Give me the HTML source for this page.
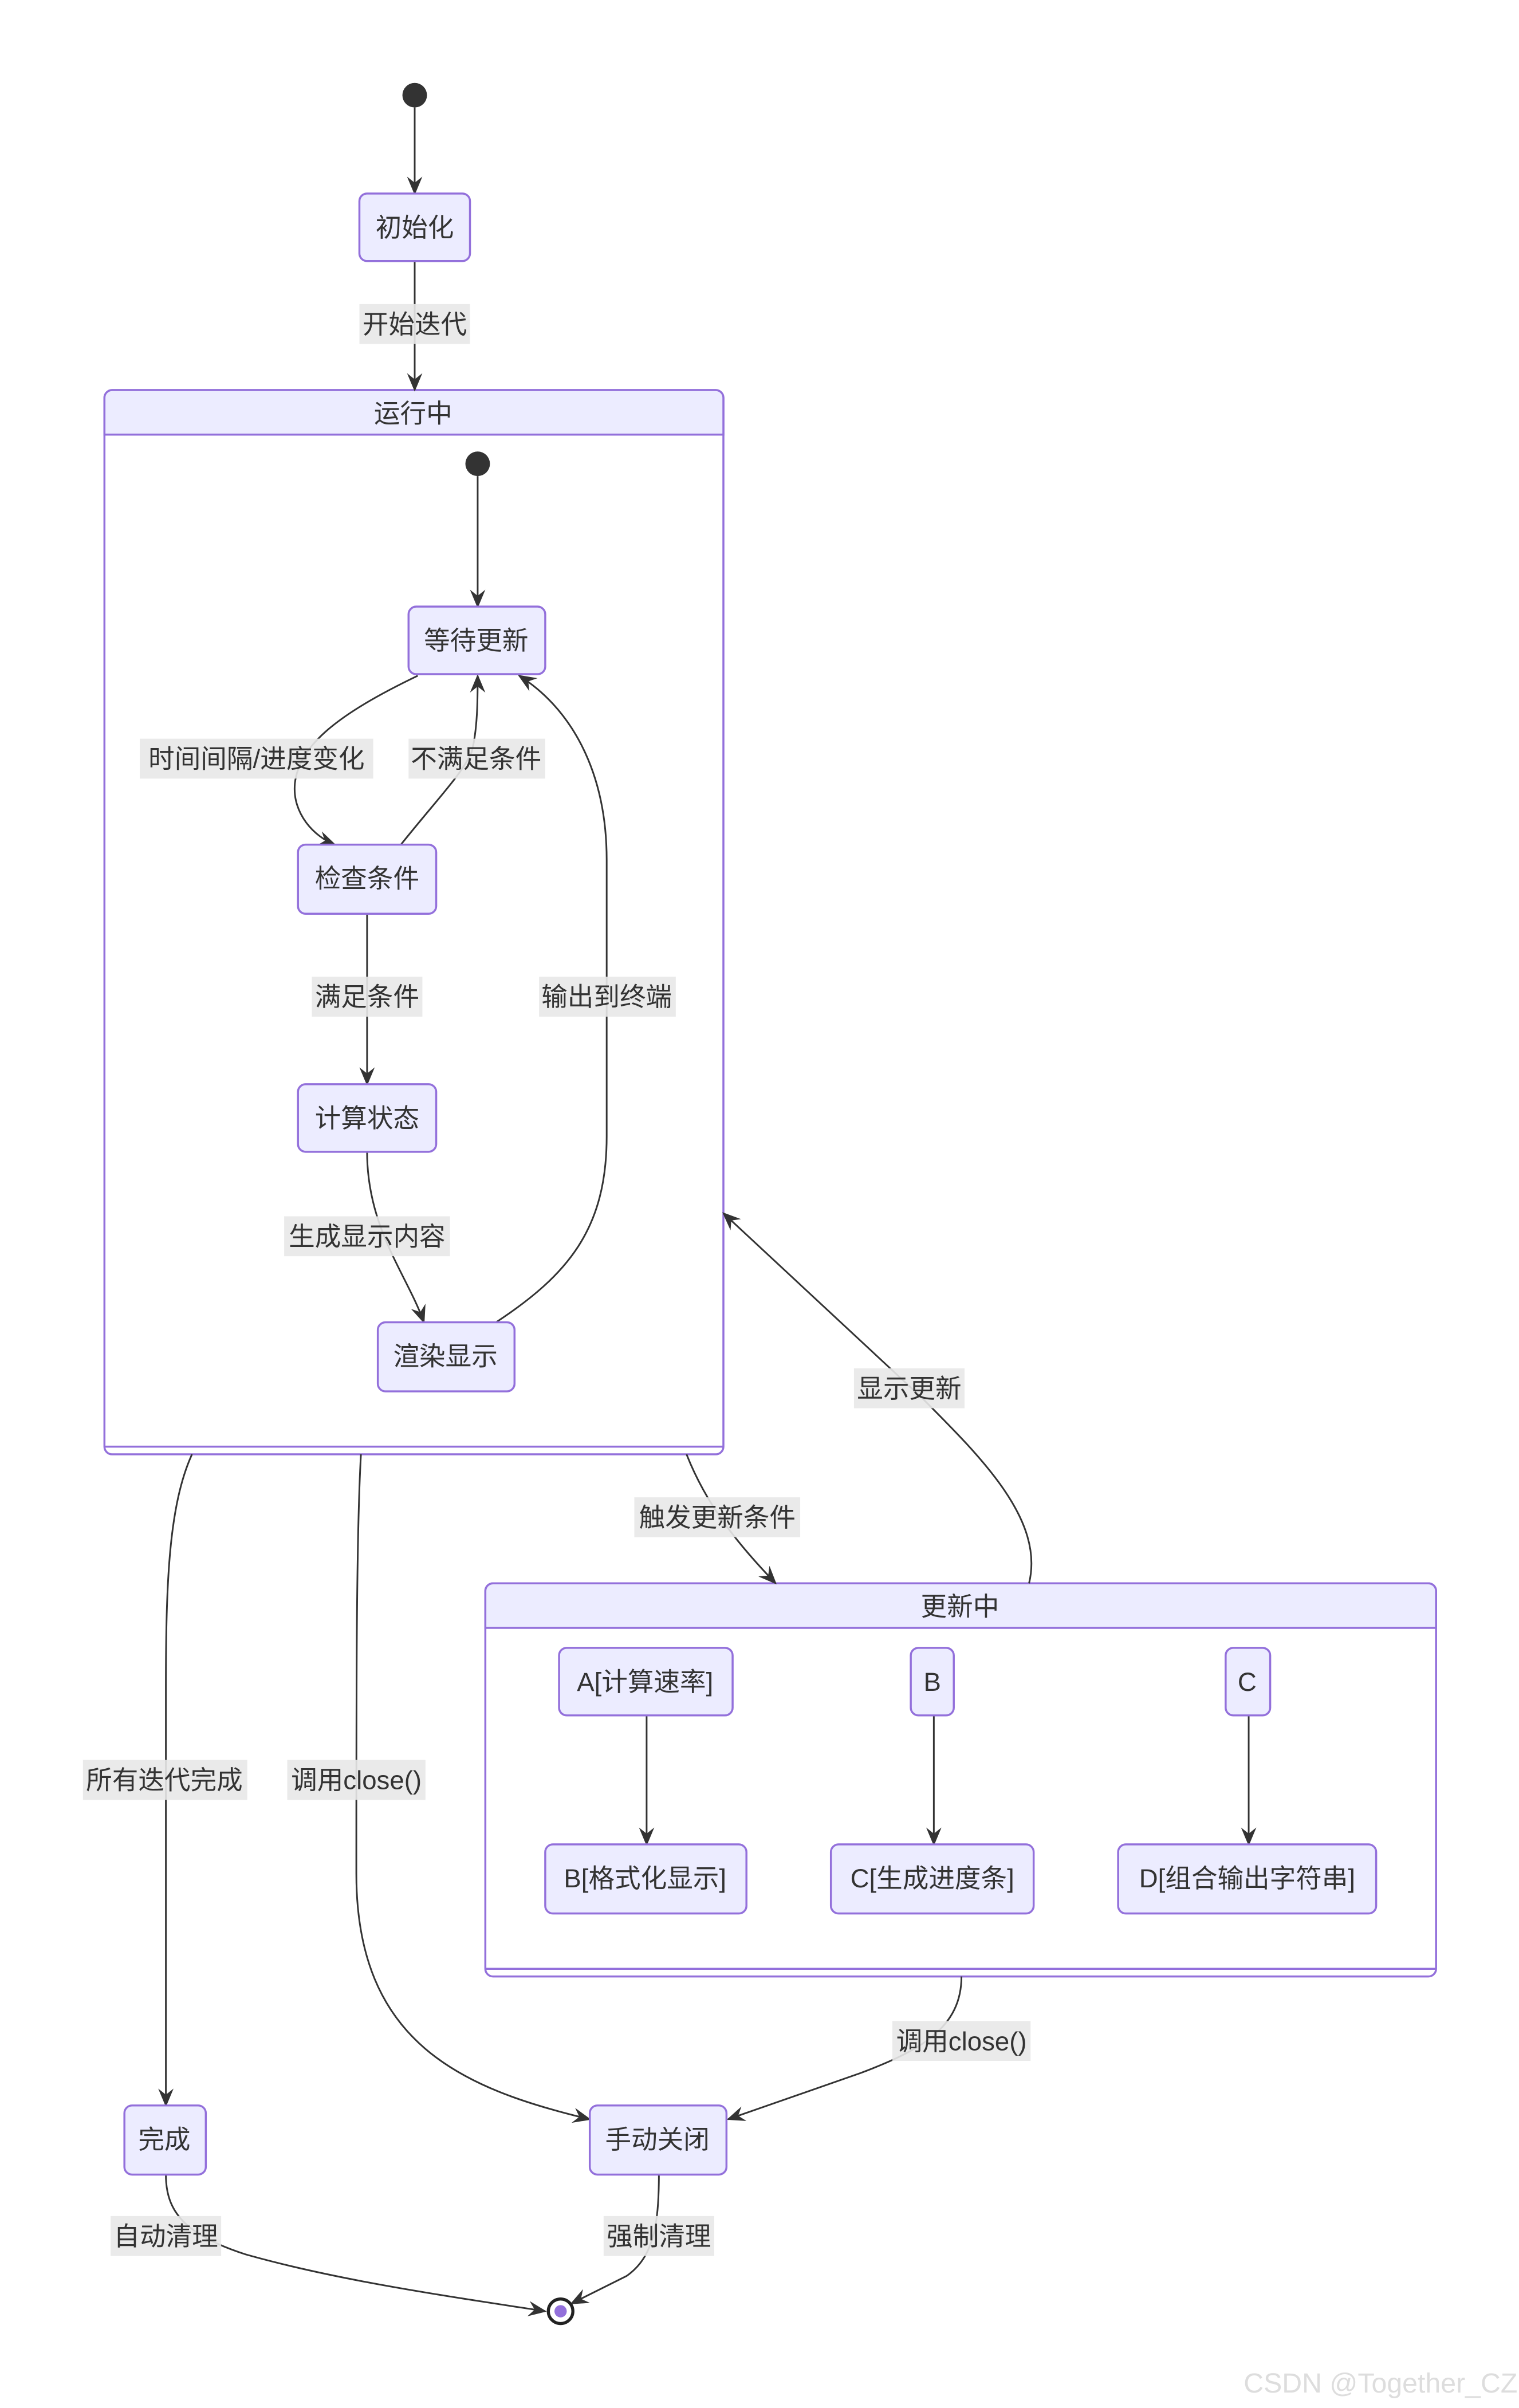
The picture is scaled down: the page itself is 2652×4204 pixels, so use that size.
<!DOCTYPE html>
<html><head><meta charset="utf-8"><style>
html,body{margin:0;padding:0;background:#fff;}
svg{display:block;}
text{font-family:"Liberation Sans","Noto Sans CJK SC",sans-serif;font-size:17px;fill:#333;}
.n{fill:#ECECFF;stroke:#9370DB;stroke-width:1.3;}
.e{fill:none;stroke:#333;stroke-width:1.1;}
.lb{fill:#e8e8e8;opacity:0.9;}
</style></head><body>
<svg width="2652" height="4204" viewBox="0 0 989 1568" preserveAspectRatio="none" xmlns="http://www.w3.org/2000/svg">
<defs><marker id="a" viewBox="0 0 12 12" refX="11" refY="6" markerWidth="12" markerHeight="12" markerUnits="userSpaceOnUse" orient="auto"><path d="M0,1 L12,6 L0,11 L4,6 z" fill="#333"/></marker></defs>

<rect x="68" y="254" width="403" height="693" rx="5" style="fill:#fff;stroke:#9370DB;stroke-width:1.3"/>
<path d="M68,283 V259 a5,5 0 0 1 5,-5 H466 a5,5 0 0 1 5,5 V283 z" class="n"/>
<line x1="68" y1="942" x2="471" y2="942" stroke="#9370DB" stroke-width="1.3"/>
<text x="269" y="275" text-anchor="middle">运行中</text>

<rect x="316" y="1031" width="619" height="256" rx="5" style="fill:#fff;stroke:#9370DB;stroke-width:1.3"/>
<path d="M316,1060 V1036 a5,5 0 0 1 5,-5 H930 a5,5 0 0 1 5,5 V1060 z" class="n"/>
<line x1="316" y1="1282" x2="935" y2="1282" stroke="#9370DB" stroke-width="1.3"/>
<text x="625" y="1052" text-anchor="middle">更新中</text>

<circle cx="270" cy="62" r="8" fill="#333"/>
<path class="e" d="M270,70 V126" marker-end="url(#a)"/>
<path class="e" d="M270,170 V254" marker-end="url(#a)"/>
<circle cx="311" cy="302" r="8" fill="#333"/>
<path class="e" d="M311,310 V395" marker-end="url(#a)"/>
<path class="e" d="M272,440 C220,465 195,485 192,510 C190,530 205,545 218,550" marker-end="url(#a)"/>
<path class="e" d="M261,550 C285,520 300,505 307,490 C311,475 311,455 311,440" marker-end="url(#a)"/>
<path class="e" d="M239,595 V706" marker-end="url(#a)"/>
<path class="e" d="M239,750 C239,800 265,830 276,861" marker-end="url(#a)"/>
<path class="e" d="M323,861 C370,830 395,800 395,740 V560 C395,500 370,460 338,440" marker-end="url(#a)"/>
<path class="e" d="M447,947 C460,980 480,1005 505,1031" marker-end="url(#a)"/>
<path class="e" d="M670,1031 C680,990 640,950 600,910 L471,790" marker-end="url(#a)"/>
<path class="e" d="M125,947 C110,980 108,1030 108,1100 V1371" marker-end="url(#a)"/>
<path class="e" d="M235,947 C232,1000 232,1100 232,1220 C232,1330 300,1360 384,1380" marker-end="url(#a)"/>
<path class="e" d="M626,1287 C626,1320 600,1335 560,1350 L474,1380" marker-end="url(#a)"/>
<path class="e" d="M108,1416 C108,1440 120,1455 160,1468 C220,1485 290,1495 355,1505" marker-end="url(#a)"/>
<path class="e" d="M429,1416 C429,1450 425,1470 408,1482 L372,1500" marker-end="url(#a)"/>
<path class="e" d="M421,1117 V1201" marker-end="url(#a)"/>
<path class="e" d="M608,1117 V1201" marker-end="url(#a)"/>
<path class="e" d="M813,1117 V1201" marker-end="url(#a)"/>

<circle cx="365" cy="1505" r="8" fill="#fff" stroke="#222" stroke-width="2"/>
<circle cx="365" cy="1505" r="4" fill="#9370DB"/>

<rect class="n" x="234" y="126" width="72" height="44" rx="5"/><text x="270" y="154" text-anchor="middle">初始化</text>
<rect class="n" x="266" y="395" width="89" height="44" rx="5"/><text x="310" y="423" text-anchor="middle">等待更新</text>
<rect class="n" x="194" y="550" width="90" height="45" rx="5"/><text x="239" y="578" text-anchor="middle">检查条件</text>
<rect class="n" x="194" y="706" width="90" height="44" rx="5"/><text x="239" y="734" text-anchor="middle">计算状态</text>
<rect class="n" x="246" y="861" width="89" height="45" rx="5"/><text x="290" y="889" text-anchor="middle">渲染显示</text>
<rect class="n" x="364" y="1073" width="113" height="44" rx="5"/><text x="420" y="1101" text-anchor="middle">A[计算速率]</text>
<rect class="n" x="593" y="1073" width="28" height="44" rx="5"/><text x="607" y="1101" text-anchor="middle">B</text>
<rect class="n" x="798" y="1073" width="29" height="44" rx="5"/><text x="812" y="1101" text-anchor="middle">C</text>
<rect class="n" x="355" y="1201" width="131" height="45" rx="5"/><text x="420" y="1229" text-anchor="middle">B[格式化显示]</text>
<rect class="n" x="541" y="1201" width="132" height="45" rx="5"/><text x="607" y="1229" text-anchor="middle">C[生成进度条]</text>
<rect class="n" x="728" y="1201" width="168" height="45" rx="5"/><text x="812" y="1229" text-anchor="middle">D[组合输出字符串]</text>
<rect class="n" x="81" y="1371" width="53" height="45" rx="5"/><text x="107" y="1399" text-anchor="middle">完成</text>
<rect class="n" x="384" y="1371" width="89" height="45" rx="5"/><text x="428" y="1399" text-anchor="middle">手动关闭</text>

<rect class="lb" x="234" y="198" width="72" height="26"/><text x="270" y="217" text-anchor="middle">开始迭代</text>
<rect class="lb" x="91" y="481" width="152" height="26"/><text x="167" y="500" text-anchor="middle">时间间隔/进度变化</text>
<rect class="lb" x="266" y="481" width="89" height="26"/><text x="310" y="500" text-anchor="middle">不满足条件</text>
<rect class="lb" x="203" y="636" width="72" height="26"/><text x="239" y="655" text-anchor="middle">满足条件</text>
<rect class="lb" x="351" y="636" width="89" height="26"/><text x="395" y="655" text-anchor="middle">输出到终端</text>
<rect class="lb" x="185" y="792" width="108" height="26"/><text x="239" y="811" text-anchor="middle">生成显示内容</text>
<rect class="lb" x="556" y="891" width="72" height="26"/><text x="592" y="910" text-anchor="middle">显示更新</text>
<rect class="lb" x="413" y="975" width="108" height="26"/><text x="467" y="994" text-anchor="middle">触发更新条件</text>
<rect class="lb" x="54" y="1146" width="107" height="26"/><text x="107" y="1165" text-anchor="middle">所有迭代完成</text>
<rect class="lb" x="187" y="1146" width="90" height="26"/><text x="232" y="1165" text-anchor="middle">调用close()</text>
<rect class="lb" x="581" y="1316" width="90" height="26"/><text x="626" y="1335" text-anchor="middle">调用close()</text>
<rect class="lb" x="72" y="1443" width="72" height="26"/><text x="108" y="1462" text-anchor="middle">自动清理</text>
<rect class="lb" x="393" y="1443" width="72" height="26"/><text x="429" y="1462" text-anchor="middle">强制清理</text>

<text x="988" y="1558" text-anchor="end" style="fill:#ddd;font-size:18px">CSDN @Together_CZ</text>
</svg>
</body></html>
